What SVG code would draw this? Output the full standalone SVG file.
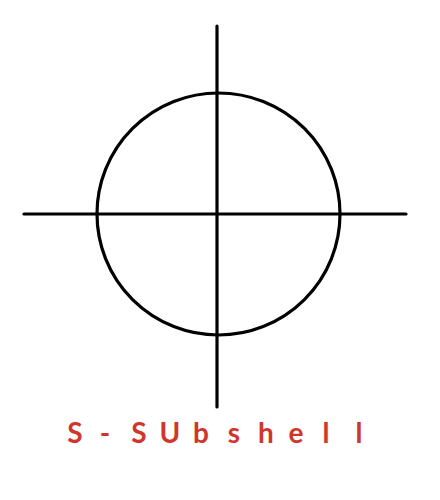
<svg xmlns="http://www.w3.org/2000/svg" width="440" height="500" viewBox="0 0 440 500">
<style>
.ax{stroke:#000;stroke-width:3.2;stroke-linecap:round;fill:none}
.lbl{font-family:"Lato","Liberation Sans",sans-serif;font-size:28px;fill:#d0362c;font-weight:bold;text-anchor:middle}
</style>
<rect width="440" height="500" fill="#fff"/>
<g id="orbital">
<ellipse cx="218.5" cy="214" rx="121.5" ry="121" class="ax"/>
</g>
<g id="axes">
<line x1="217" y1="26" x2="217" y2="407" class="ax"/>
<line x1="24" y1="214" x2="406" y2="214" class="ax"/>
</g>
<g id="label">
<text class="lbl" x="75 105 139 170 201 234 266 296 326 359" y="443">S-SUbshell</text>
</g>
</svg>
